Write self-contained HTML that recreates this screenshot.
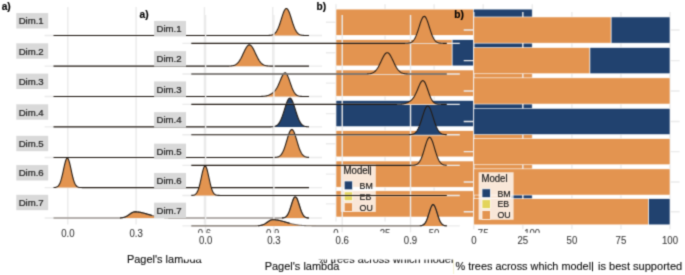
<!DOCTYPE html>
<html><head><meta charset="utf-8"><style>
html,body{margin:0;padding:0;background:#fff;}
body{width:685px;height:275px;overflow:hidden;}
svg{display:block;font-family:'Liberation Sans', Arial, Helvetica, sans-serif;}
</style></head><body>
<svg width="685" height="275" viewBox="0 0 685 275">
<defs><filter id="bl" color-interpolation-filters="sRGB" x="0" y="0" width="685" height="275" filterUnits="userSpaceOnUse"><feConvolveMatrix order="3" kernelMatrix="0.0277 0.1110 0.0277 0.1110 0.4452 0.1110 0.0277 0.1110 0.0277" edgeMode="duplicate"/></filter></defs>
<rect width="685" height="275" fill="#fff"/>
<g filter="url(#bl)">
<rect width="685" height="275" fill="#fff"/>
<g id="copyA">
<line x1="67.8" y1="7.1" x2="67.8" y2="224.5" stroke="#EBEBEB" stroke-width="1.4"/>
<line x1="136.11" y1="7.1" x2="136.11" y2="224.5" stroke="#EBEBEB" stroke-width="1.4"/>
<line x1="204.42" y1="7.1" x2="204.42" y2="224.5" stroke="#EBEBEB" stroke-width="1.4"/>
<line x1="272.73" y1="7.1" x2="272.73" y2="224.5" stroke="#EBEBEB" stroke-width="1.4"/>
<line x1="44.6" y1="35.5" x2="322" y2="35.5" stroke="#EBEBEB" stroke-width="1.4"/>
<line x1="44.6" y1="66.15" x2="322" y2="66.15" stroke="#EBEBEB" stroke-width="1.4"/>
<line x1="44.6" y1="96.5" x2="322" y2="96.5" stroke="#EBEBEB" stroke-width="1.4"/>
<line x1="44.6" y1="126.9" x2="322" y2="126.9" stroke="#EBEBEB" stroke-width="1.4"/>
<line x1="44.6" y1="157.5" x2="322" y2="157.5" stroke="#EBEBEB" stroke-width="1.4"/>
<line x1="44.6" y1="187.6" x2="322" y2="187.6" stroke="#EBEBEB" stroke-width="1.4"/>
<line x1="44.6" y1="218.05" x2="322" y2="218.05" stroke="#EBEBEB" stroke-width="1.4"/>
<line x1="336" y1="4.2" x2="336" y2="221.5" stroke="#EBEBEB" stroke-width="1.4"/>
<line x1="385.05" y1="4.2" x2="385.05" y2="221.5" stroke="#EBEBEB" stroke-width="1.4"/>
<line x1="434.1" y1="4.2" x2="434.1" y2="221.5" stroke="#EBEBEB" stroke-width="1.4"/>
<line x1="483.15" y1="4.2" x2="483.15" y2="221.5" stroke="#EBEBEB" stroke-width="1.4"/>
<line x1="532.2" y1="4.2" x2="532.2" y2="221.5" stroke="#EBEBEB" stroke-width="1.4"/>
<line x1="325.9" y1="22.2" x2="541.8" y2="22.2" stroke="#EBEBEB" stroke-width="1.4"/>
<line x1="325.9" y1="52.8" x2="541.8" y2="52.8" stroke="#EBEBEB" stroke-width="1.4"/>
<line x1="325.9" y1="83.1" x2="541.8" y2="83.1" stroke="#EBEBEB" stroke-width="1.4"/>
<line x1="325.9" y1="113.6" x2="541.8" y2="113.6" stroke="#EBEBEB" stroke-width="1.4"/>
<line x1="325.9" y1="143.8" x2="541.8" y2="143.8" stroke="#EBEBEB" stroke-width="1.4"/>
<line x1="325.9" y1="174.1" x2="541.8" y2="174.1" stroke="#EBEBEB" stroke-width="1.4"/>
<line x1="325.9" y1="203.9" x2="541.8" y2="203.9" stroke="#EBEBEB" stroke-width="1.4"/>
<polygon points="53.5,35.5 53.5,35.5 267,35.48 267.5,35.47 268,35.46 268.5,35.44 269,35.42 269.5,35.39 270,35.35 270.5,35.29 271,35.22 271.5,35.12 272,35 272.5,34.84 273,34.64 273.5,34.4 274,34.09 274.5,33.73 275,33.28 275.5,32.75 276,32.12 276.5,31.4 277,30.56 277.5,29.61 278,28.55 278.5,27.37 279,26.08 279.5,24.69 280,23.21 280.5,21.67 281,20.09 281.5,18.48 282,16.89 282.5,15.35 283,13.88 283.5,12.53 284,11.33 284.5,10.31 285,9.5 285.5,8.92 286,8.58 286.5,8.51 287,8.69 287.5,9.12 288,9.8 288.5,10.69 289,11.79 289.5,13.05 290,14.45 290.5,15.96 291,17.52 291.5,19.12 292,20.72 292.5,22.3 293,23.81 293.5,25.26 294,26.6 294.5,27.85 295,28.99 295.5,30 296,30.91 296.5,31.7 297,32.39 297.5,32.97 298,33.47 298.5,33.88 299,34.22 299.5,34.5 300,34.73 300.5,34.91 301,35.05 301.5,35.16 302,35.25 302.5,35.31 303,35.36 303.5,35.4 304,35.43 304.5,35.45 305,35.47 305.5,35.48 306,35.48 309,35.5 309,35.5" fill="#E39450"/>
<polyline points="53.5,35.5 267,35.48 267.5,35.47 268,35.46 268.5,35.44 269,35.42 269.5,35.39 270,35.35 270.5,35.29 271,35.22 271.5,35.12 272,35 272.5,34.84 273,34.64 273.5,34.4 274,34.09 274.5,33.73 275,33.28 275.5,32.75 276,32.12 276.5,31.4 277,30.56 277.5,29.61 278,28.55 278.5,27.37 279,26.08 279.5,24.69 280,23.21 280.5,21.67 281,20.09 281.5,18.48 282,16.89 282.5,15.35 283,13.88 283.5,12.53 284,11.33 284.5,10.31 285,9.5 285.5,8.92 286,8.58 286.5,8.51 287,8.69 287.5,9.12 288,9.8 288.5,10.69 289,11.79 289.5,13.05 290,14.45 290.5,15.96 291,17.52 291.5,19.12 292,20.72 292.5,22.3 293,23.81 293.5,25.26 294,26.6 294.5,27.85 295,28.99 295.5,30 296,30.91 296.5,31.7 297,32.39 297.5,32.97 298,33.47 298.5,33.88 299,34.22 299.5,34.5 300,34.73 300.5,34.91 301,35.05 301.5,35.16 302,35.25 302.5,35.31 303,35.36 303.5,35.4 304,35.43 304.5,35.45 305,35.47 305.5,35.48 306,35.48 309,35.5" fill="none" stroke="#241c16" stroke-width="1.1"/>
<polygon points="53.5,66.15 53.5,66.15 226.5,66.14 227,66.13 227.5,66.12 228,66.11 228.5,66.1 229,66.08 229.5,66.06 230,66.04 230.5,66 231,65.96 231.5,65.9 232,65.83 232.5,65.75 233,65.64 233.5,65.51 234,65.36 234.5,65.17 235,64.95 235.5,64.69 236,64.39 236.5,64.04 237,63.63 237.5,63.17 238,62.65 238.5,62.06 239,61.41 239.5,60.69 240,59.91 240.5,59.06 241,58.16 241.5,57.2 242,56.19 242.5,55.15 243,54.09 243.5,53.02 244,51.94 244.5,50.89 245,49.87 245.5,48.91 246,48.01 246.5,47.2 247,46.49 247.5,45.89 248,45.42 248.5,45.09 249,44.9 249.5,44.85 250,44.96 250.5,45.2 251,45.59 251.5,46.12 252,46.76 252.5,47.51 253,48.36 253.5,49.29 254,50.27 254.5,51.31 255,52.37 255.5,53.45 256,54.52 256.5,55.57 257,56.6 257.5,57.59 258,58.52 258.5,59.41 259,60.23 259.5,60.99 260,61.68 260.5,62.3 261,62.86 261.5,63.36 262,63.8 262.5,64.19 263,64.52 263.5,64.8 264,65.05 264.5,65.25 265,65.42 265.5,65.57 266,65.69 266.5,65.78 267,65.86 267.5,65.92 268,65.98 268.5,66.02 269,66.05 269.5,66.07 270,66.09 270.5,66.11 271,66.12 271.5,66.13 272,66.13 309,66.15 309,66.15" fill="#E39450"/>
<polyline points="53.5,66.15 226.5,66.14 227,66.13 227.5,66.12 228,66.11 228.5,66.1 229,66.08 229.5,66.06 230,66.04 230.5,66 231,65.96 231.5,65.9 232,65.83 232.5,65.75 233,65.64 233.5,65.51 234,65.36 234.5,65.17 235,64.95 235.5,64.69 236,64.39 236.5,64.04 237,63.63 237.5,63.17 238,62.65 238.5,62.06 239,61.41 239.5,60.69 240,59.91 240.5,59.06 241,58.16 241.5,57.2 242,56.19 242.5,55.15 243,54.09 243.5,53.02 244,51.94 244.5,50.89 245,49.87 245.5,48.91 246,48.01 246.5,47.2 247,46.49 247.5,45.89 248,45.42 248.5,45.09 249,44.9 249.5,44.85 250,44.96 250.5,45.2 251,45.59 251.5,46.12 252,46.76 252.5,47.51 253,48.36 253.5,49.29 254,50.27 254.5,51.31 255,52.37 255.5,53.45 256,54.52 256.5,55.57 257,56.6 257.5,57.59 258,58.52 258.5,59.41 259,60.23 259.5,60.99 260,61.68 260.5,62.3 261,62.86 261.5,63.36 262,63.8 262.5,64.19 263,64.52 263.5,64.8 264,65.05 264.5,65.25 265,65.42 265.5,65.57 266,65.69 266.5,65.78 267,65.86 267.5,65.92 268,65.98 268.5,66.02 269,66.05 269.5,66.07 270,66.09 270.5,66.11 271,66.12 271.5,66.13 272,66.13 309,66.15" fill="none" stroke="#241c16" stroke-width="1.1"/>
<polygon points="53.5,96.5 53.5,96.5 259,96.48 259.5,96.47 260,96.47 260.5,96.46 261,96.44 261.5,96.42 262,96.4 262.5,96.38 263,96.34 263.5,96.3 264,96.25 264.5,96.2 265,96.13 265.5,96.05 266,95.95 266.5,95.84 267,95.72 267.5,95.58 268,95.42 268.5,95.24 269,95.05 269.5,94.83 270,94.59 270.5,94.33 271,94.04 271.5,93.74 272,93.4 272.5,93.03 273,92.63 273.5,92.2 274,91.72 274.5,91.19 275,90.61 275.5,89.98 276,89.27 276.5,88.5 277,87.66 277.5,86.73 278,85.74 278.5,84.67 279,83.55 279.5,82.37 280,81.16 280.5,79.93 281,78.71 281.5,77.54 282,76.42 282.5,75.41 283,74.53 283.5,73.8 284,73.25 284.5,72.91 285,72.79 285.5,72.89 286,73.23 286.5,73.78 287,74.54 287.5,75.5 288,76.62 288.5,77.87 289,79.22 289.5,80.64 290,82.1 290.5,83.57 291,85 291.5,86.39 292,87.7 292.5,88.92 293,90.05 293.5,91.06 294,91.97 294.5,92.76 295,93.45 295.5,94.04 296,94.53 296.5,94.95 297,95.29 297.5,95.56 298,95.78 298.5,95.96 299,96.09 299.5,96.2 300,96.28 300.5,96.34 301,96.39 301.5,96.42 302,96.44 302.5,96.46 303,96.47 303.5,96.48 309,96.5 309,96.5" fill="#E39450"/>
<polyline points="53.5,96.5 259,96.48 259.5,96.47 260,96.47 260.5,96.46 261,96.44 261.5,96.42 262,96.4 262.5,96.38 263,96.34 263.5,96.3 264,96.25 264.5,96.2 265,96.13 265.5,96.05 266,95.95 266.5,95.84 267,95.72 267.5,95.58 268,95.42 268.5,95.24 269,95.05 269.5,94.83 270,94.59 270.5,94.33 271,94.04 271.5,93.74 272,93.4 272.5,93.03 273,92.63 273.5,92.2 274,91.72 274.5,91.19 275,90.61 275.5,89.98 276,89.27 276.5,88.5 277,87.66 277.5,86.73 278,85.74 278.5,84.67 279,83.55 279.5,82.37 280,81.16 280.5,79.93 281,78.71 281.5,77.54 282,76.42 282.5,75.41 283,74.53 283.5,73.8 284,73.25 284.5,72.91 285,72.79 285.5,72.89 286,73.23 286.5,73.78 287,74.54 287.5,75.5 288,76.62 288.5,77.87 289,79.22 289.5,80.64 290,82.1 290.5,83.57 291,85 291.5,86.39 292,87.7 292.5,88.92 293,90.05 293.5,91.06 294,91.97 294.5,92.76 295,93.45 295.5,94.04 296,94.53 296.5,94.95 297,95.29 297.5,95.56 298,95.78 298.5,95.96 299,96.09 299.5,96.2 300,96.28 300.5,96.34 301,96.39 301.5,96.42 302,96.44 302.5,96.46 303,96.47 303.5,96.48 309,96.5" fill="none" stroke="#241c16" stroke-width="1.1"/>
<polygon points="53.5,126.9 53.5,126.9 269,126.88 269.5,126.88 270,126.87 270.5,126.85 271,126.84 271.5,126.81 272,126.78 272.5,126.74 273,126.68 273.5,126.61 274,126.52 274.5,126.41 275,126.26 275.5,126.08 276,125.85 276.5,125.57 277,125.24 277.5,124.84 278,124.36 278.5,123.8 279,123.14 279.5,122.39 280,121.54 280.5,120.57 281,119.49 281.5,118.31 282,117.02 282.5,115.64 283,114.17 283.5,112.63 284,111.04 284.5,109.43 285,107.82 285.5,106.24 286,104.71 286.5,103.28 287,101.97 287.5,100.81 288,99.83 288.5,99.05 289,98.5 289.5,98.18 290,98.1 290.5,98.28 291,98.69 291.5,99.34 292,100.2 292.5,101.25 293,102.48 293.5,103.84 294,105.31 294.5,106.86 295,108.46 295.5,110.08 296,111.68 296.5,113.25 297,114.77 297.5,116.2 298,117.55 298.5,118.8 299,119.94 299.5,120.97 300,121.89 300.5,122.71 301,123.42 301.5,124.03 302,124.56 302.5,125.01 303,125.38 303.5,125.69 304,125.95 304.5,126.16 305,126.32 305.5,126.46 306,126.56 306.5,126.64 307,126.71 307.5,126.76 308,126.8 308.5,126.82 309,126.84 309,126.9" fill="#21426F"/>
<polyline points="53.5,126.9 269,126.88 269.5,126.88 270,126.87 270.5,126.85 271,126.84 271.5,126.81 272,126.78 272.5,126.74 273,126.68 273.5,126.61 274,126.52 274.5,126.41 275,126.26 275.5,126.08 276,125.85 276.5,125.57 277,125.24 277.5,124.84 278,124.36 278.5,123.8 279,123.14 279.5,122.39 280,121.54 280.5,120.57 281,119.49 281.5,118.31 282,117.02 282.5,115.64 283,114.17 283.5,112.63 284,111.04 284.5,109.43 285,107.82 285.5,106.24 286,104.71 286.5,103.28 287,101.97 287.5,100.81 288,99.83 288.5,99.05 289,98.5 289.5,98.18 290,98.1 290.5,98.28 291,98.69 291.5,99.34 292,100.2 292.5,101.25 293,102.48 293.5,103.84 294,105.31 294.5,106.86 295,108.46 295.5,110.08 296,111.68 296.5,113.25 297,114.77 297.5,116.2 298,117.55 298.5,118.8 299,119.94 299.5,120.97 300,121.89 300.5,122.71 301,123.42 301.5,124.03 302,124.56 302.5,125.01 303,125.38 303.5,125.69 304,125.95 304.5,126.16 305,126.32 305.5,126.46 306,126.56 306.5,126.64 307,126.71 307.5,126.76 308,126.8 308.5,126.82 309,126.84" fill="none" stroke="#241c16" stroke-width="1.1"/>
<polygon points="53.5,157.5 53.5,157.5 272.5,157.48 273,157.48 273.5,157.47 274,157.45 274.5,157.43 275,157.4 275.5,157.36 276,157.31 276.5,157.24 277,157.15 277.5,157.03 278,156.88 278.5,156.69 279,156.44 279.5,156.14 280,155.77 280.5,155.32 281,154.78 281.5,154.15 282,153.4 282.5,152.54 283,151.55 283.5,150.44 284,149.21 284.5,147.86 285,146.39 285.5,144.84 286,143.21 286.5,141.53 287,139.84 287.5,138.16 288,136.52 288.5,134.98 289,133.56 289.5,132.31 290,131.26 290.5,130.43 291,129.86 291.5,129.55 292,129.52 292.5,129.77 293,130.29 293.5,131.07 294,132.08 294.5,133.3 295,134.69 295.5,136.21 296,137.82 296.5,139.5 297,141.2 297.5,142.88 298,144.52 298.5,146.09 299,147.57 299.5,148.95 300,150.2 300.5,151.34 301,152.35 301.5,153.24 302,154 302.5,154.66 303,155.22 303.5,155.69 304,156.07 304.5,156.39 305,156.64 305.5,156.84 306,157 306.5,157.13 307,157.22 307.5,157.3 308,157.35 308.5,157.39 309,157.42 309,157.5" fill="#E39450"/>
<polyline points="53.5,157.5 272.5,157.48 273,157.48 273.5,157.47 274,157.45 274.5,157.43 275,157.4 275.5,157.36 276,157.31 276.5,157.24 277,157.15 277.5,157.03 278,156.88 278.5,156.69 279,156.44 279.5,156.14 280,155.77 280.5,155.32 281,154.78 281.5,154.15 282,153.4 282.5,152.54 283,151.55 283.5,150.44 284,149.21 284.5,147.86 285,146.39 285.5,144.84 286,143.21 286.5,141.53 287,139.84 287.5,138.16 288,136.52 288.5,134.98 289,133.56 289.5,132.31 290,131.26 290.5,130.43 291,129.86 291.5,129.55 292,129.52 292.5,129.77 293,130.29 293.5,131.07 294,132.08 294.5,133.3 295,134.69 295.5,136.21 296,137.82 296.5,139.5 297,141.2 297.5,142.88 298,144.52 298.5,146.09 299,147.57 299.5,148.95 300,150.2 300.5,151.34 301,152.35 301.5,153.24 302,154 302.5,154.66 303,155.22 303.5,155.69 304,156.07 304.5,156.39 305,156.64 305.5,156.84 306,157 306.5,157.13 307,157.22 307.5,157.3 308,157.35 308.5,157.39 309,157.42" fill="none" stroke="#241c16" stroke-width="1.1"/>
<polygon points="53.5,187.6 53.5,187.56 54,187.54 54.5,187.5 55,187.44 55.5,187.36 56,187.25 56.5,187.08 57,186.85 57.5,186.54 58,186.12 58.5,185.58 59,184.88 59.5,184.01 60,182.94 60.5,181.65 61,180.14 61.5,178.4 62,176.45 62.5,174.32 63,172.05 63.5,169.71 64,167.37 64.5,165.11 65,163.04 65.5,161.23 66,159.78 66.5,158.75 67,158.19 67.5,158.14 68,158.6 68.5,159.53 69,160.91 69.5,162.65 70,164.68 70.5,166.91 71,169.24 71.5,171.58 72,173.87 72.5,176.03 73,178.02 73.5,179.81 74,181.37 74.5,182.7 75,183.81 75.5,184.72 76,185.45 76.5,186.03 77,186.47 77.5,186.8 78,187.04 78.5,187.22 79,187.34 79.5,187.43 80,187.49 80.5,187.53 81,187.56 81.5,187.57 82,187.58 309,187.6 309,187.6" fill="#E39450"/>
<polyline points="53.5,187.56 54,187.54 54.5,187.5 55,187.44 55.5,187.36 56,187.25 56.5,187.08 57,186.85 57.5,186.54 58,186.12 58.5,185.58 59,184.88 59.5,184.01 60,182.94 60.5,181.65 61,180.14 61.5,178.4 62,176.45 62.5,174.32 63,172.05 63.5,169.71 64,167.37 64.5,165.11 65,163.04 65.5,161.23 66,159.78 66.5,158.75 67,158.19 67.5,158.14 68,158.6 68.5,159.53 69,160.91 69.5,162.65 70,164.68 70.5,166.91 71,169.24 71.5,171.58 72,173.87 72.5,176.03 73,178.02 73.5,179.81 74,181.37 74.5,182.7 75,183.81 75.5,184.72 76,185.45 76.5,186.03 77,186.47 77.5,186.8 78,187.04 78.5,187.22 79,187.34 79.5,187.43 80,187.49 80.5,187.53 81,187.56 81.5,187.57 82,187.58 309,187.6" fill="none" stroke="#241c16" stroke-width="1.1"/>
<polygon points="53.5,218.05 53.5,218.05 116.5,218.04 117,218.03 117.5,218.02 118,218.01 118.5,218 119,217.98 119.5,217.96 120,217.93 120.5,217.9 121,217.85 121.5,217.8 122,217.73 122.5,217.65 123,217.55 123.5,217.44 124,217.3 124.5,217.15 125,216.97 125.5,216.76 126,216.54 126.5,216.28 127,216.01 127.5,215.71 128,215.39 128.5,215.06 129,214.71 129.5,214.36 130,214.01 130.5,213.66 131,213.32 131.5,213 132,212.71 132.5,212.45 133,212.24 133.5,212.06 134,211.94 134.5,211.87 135,211.85 135.5,211.86 136,211.87 136.5,211.9 137,211.93 137.5,211.97 138,212.02 138.5,212.08 139,212.15 139.5,212.23 140,212.31 140.5,212.4 141,212.5 141.5,212.6 142,212.71 142.5,212.82 143,212.94 143.5,213.07 144,213.2 144.5,213.33 145,213.47 145.5,213.6 146,213.74 146.5,213.89 147,214.03 147.5,214.17 148,214.32 148.5,214.46 149,214.61 149.5,214.75 150,214.89 150.5,215.03 151,215.17 151.5,215.31 152,215.44 152.5,215.57 153,215.7 153.5,215.82 154,215.94 154.5,216.06 155,216.17 155.5,216.28 156,216.39 156.5,216.49 157,216.59 157.5,216.68 158,216.77 158.5,216.86 159,216.94 159.5,217.02 160,217.09 160.5,217.16 161,217.22 161.5,217.29 162,217.34 162.5,217.4 163,217.45 163.5,217.5 164,217.54 164.5,217.59 165,217.63 165.5,217.66 166,217.7 166.5,217.73 167,217.76 167.5,217.78 168,217.81 168.5,217.83 169,217.85 169.5,217.87 170,217.89 170.5,217.9 171,217.92 171.5,217.93 172,217.94 172.5,217.96 173,217.97 173.5,217.97 174,217.98 174.5,217.99 175,218 175.5,218 176,218.01 176.5,218.01 177,218.02 177.5,218.02 178,218.02 178.5,218.03 179,218.03 280,218.04 280.5,218.03 281,218.01 281.5,217.99 282,217.97 282.5,217.92 283,217.86 283.5,217.78 284,217.66 284.5,217.49 285,217.28 285.5,216.99 286,216.62 286.5,216.16 287,215.58 287.5,214.87 288,214.02 288.5,213.03 289,211.89 289.5,210.61 290,209.2 290.5,207.68 291,206.1 291.5,204.49 292,202.89 292.5,201.38 293,200 293.5,198.8 294,197.85 294.5,197.17 295,196.81 295.5,196.78 296,197.07 296.5,197.69 297,198.59 297.5,199.74 298,201.09 298.5,202.58 299,204.16 299.5,205.78 300,207.37 300.5,208.9 301,210.33 301.5,211.64 302,212.81 302.5,213.83 303,214.71 303.5,215.44 304,216.05 304.5,216.54 305,216.92 305.5,217.23 306,217.45 306.5,217.63 307,217.75 307.5,217.85 308,217.91 308.5,217.96 309,217.99 309,218.05" fill="#E39450"/>
<polyline points="53.5,218.05 116.5,218.04 117,218.03 117.5,218.02 118,218.01 118.5,218 119,217.98 119.5,217.96 120,217.93 120.5,217.9 121,217.85 121.5,217.8 122,217.73 122.5,217.65 123,217.55 123.5,217.44 124,217.3 124.5,217.15 125,216.97 125.5,216.76 126,216.54 126.5,216.28 127,216.01 127.5,215.71 128,215.39 128.5,215.06 129,214.71 129.5,214.36 130,214.01 130.5,213.66 131,213.32 131.5,213 132,212.71 132.5,212.45 133,212.24 133.5,212.06 134,211.94 134.5,211.87 135,211.85 135.5,211.86 136,211.87 136.5,211.9 137,211.93 137.5,211.97 138,212.02 138.5,212.08 139,212.15 139.5,212.23 140,212.31 140.5,212.4 141,212.5 141.5,212.6 142,212.71 142.5,212.82 143,212.94 143.5,213.07 144,213.2 144.5,213.33 145,213.47 145.5,213.6 146,213.74 146.5,213.89 147,214.03 147.5,214.17 148,214.32 148.5,214.46 149,214.61 149.5,214.75 150,214.89 150.5,215.03 151,215.17 151.5,215.31 152,215.44 152.5,215.57 153,215.7 153.5,215.82 154,215.94 154.5,216.06 155,216.17 155.5,216.28 156,216.39 156.5,216.49 157,216.59 157.5,216.68 158,216.77 158.5,216.86 159,216.94 159.5,217.02 160,217.09 160.5,217.16 161,217.22 161.5,217.29 162,217.34 162.5,217.4 163,217.45 163.5,217.5 164,217.54 164.5,217.59 165,217.63 165.5,217.66 166,217.7 166.5,217.73 167,217.76 167.5,217.78 168,217.81 168.5,217.83 169,217.85 169.5,217.87 170,217.89 170.5,217.9 171,217.92 171.5,217.93 172,217.94 172.5,217.96 173,217.97 173.5,217.97 174,217.98 174.5,217.99 175,218 175.5,218 176,218.01 176.5,218.01 177,218.02 177.5,218.02 178,218.02 178.5,218.03 179,218.03 280,218.04 280.5,218.03 281,218.01 281.5,217.99 282,217.97 282.5,217.92 283,217.86 283.5,217.78 284,217.66 284.5,217.49 285,217.28 285.5,216.99 286,216.62 286.5,216.16 287,215.58 287.5,214.87 288,214.02 288.5,213.03 289,211.89 289.5,210.61 290,209.2 290.5,207.68 291,206.1 291.5,204.49 292,202.89 292.5,201.38 293,200 293.5,198.8 294,197.85 294.5,197.17 295,196.81 295.5,196.78 296,197.07 296.5,197.69 297,198.59 297.5,199.74 298,201.09 298.5,202.58 299,204.16 299.5,205.78 300,207.37 300.5,208.9 301,210.33 301.5,211.64 302,212.81 302.5,213.83 303,214.71 303.5,215.44 304,216.05 304.5,216.54 305,216.92 305.5,217.23 306,217.45 306.5,217.63 307,217.75 307.5,217.85 308,217.91 308.5,217.96 309,217.99" fill="none" stroke="#7a716a" stroke-width="1.1"/>
<polyline points="120,217.93 120.5,217.9 121,217.85 121.5,217.8 122,217.73 122.5,217.65 123,217.55 123.5,217.44 124,217.3 124.5,217.15 125,216.97 125.5,216.76 126,216.54 126.5,216.28 127,216.01 127.5,215.71 128,215.39 128.5,215.06 129,214.71 129.5,214.36 130,214.01 130.5,213.66 131,213.32 131.5,213 132,212.71 132.5,212.45 133,212.24 133.5,212.06 134,211.94 134.5,211.87 135,211.85 135.5,211.86 136,211.87 136.5,211.9 137,211.93 137.5,211.97 138,212.02 138.5,212.08 139,212.15 139.5,212.23 140,212.31 140.5,212.4 141,212.5 141.5,212.6 142,212.71 142.5,212.82 143,212.94 143.5,213.07 144,213.2 144.5,213.33 145,213.47 145.5,213.6 146,213.74 146.5,213.89 147,214.03 147.5,214.17 148,214.32 148.5,214.46 149,214.61 149.5,214.75 150,214.89 150.5,215.03 151,215.17 151.5,215.31 152,215.44" fill="none" stroke="#241c16" stroke-width="1.1"/>
<polyline points="282,217.97 282.5,217.92 283,217.86 283.5,217.78 284,217.66 284.5,217.49 285,217.28 285.5,216.99 286,216.62 286.5,216.16 287,215.58 287.5,214.87 288,214.02 288.5,213.03 289,211.89 289.5,210.61 290,209.2 290.5,207.68 291,206.1 291.5,204.49 292,202.89 292.5,201.38 293,200 293.5,198.8 294,197.85 294.5,197.17 295,196.81 295.5,196.78 296,197.07 296.5,197.69 297,198.59 297.5,199.74 298,201.09 298.5,202.58 299,204.16 299.5,205.78 300,207.37 300.5,208.9 301,210.33 301.5,211.64 302,212.81 302.5,213.83 303,214.71 303.5,215.44 304,216.05 304.5,216.54 305,216.92 305.5,217.23 306,217.45 306.5,217.63 307,217.75 307.5,217.85 308,217.91 308.5,217.96 309,217.99" fill="none" stroke="#241c16" stroke-width="1.1"/>
<rect x="16.3" y="13.1" width="31.9" height="15.4" fill="#D9D9D9"/>
<text transform="translate(18.7,24.35) scale(1,1.05)" font-size="9.3" fill="#222" textLength="25.0" lengthAdjust="spacingAndGlyphs" stroke="#222" stroke-width="0.22">Dim.1</text>
<rect x="16.3" y="43.3" width="31.9" height="15.4" fill="#D9D9D9"/>
<text transform="translate(18.7,54.55) scale(1,1.05)" font-size="9.3" fill="#222" textLength="25.0" lengthAdjust="spacingAndGlyphs" stroke="#222" stroke-width="0.22">Dim.2</text>
<rect x="16.3" y="73.6" width="31.9" height="15.4" fill="#D9D9D9"/>
<text transform="translate(18.7,84.85) scale(1,1.05)" font-size="9.3" fill="#222" textLength="25.0" lengthAdjust="spacingAndGlyphs" stroke="#222" stroke-width="0.22">Dim.3</text>
<rect x="16.3" y="104.3" width="31.9" height="15.4" fill="#D9D9D9"/>
<text transform="translate(18.7,115.55) scale(1,1.05)" font-size="9.3" fill="#222" textLength="25.0" lengthAdjust="spacingAndGlyphs" stroke="#222" stroke-width="0.22">Dim.4</text>
<rect x="16.3" y="135.8" width="31.9" height="15.4" fill="#D9D9D9"/>
<text transform="translate(18.7,147.05) scale(1,1.05)" font-size="9.3" fill="#222" textLength="25.0" lengthAdjust="spacingAndGlyphs" stroke="#222" stroke-width="0.22">Dim.5</text>
<rect x="16.3" y="165.1" width="31.9" height="15.4" fill="#D9D9D9"/>
<text transform="translate(18.7,176.35) scale(1,1.05)" font-size="9.3" fill="#222" textLength="25.0" lengthAdjust="spacingAndGlyphs" stroke="#222" stroke-width="0.22">Dim.6</text>
<rect x="16.3" y="194.8" width="31.9" height="15.4" fill="#D9D9D9"/>
<text transform="translate(18.7,206.05) scale(1,1.05)" font-size="9.3" fill="#222" textLength="25.0" lengthAdjust="spacingAndGlyphs" stroke="#222" stroke-width="0.22">Dim.7</text>
<rect x="336" y="9.1" width="137.34" height="26.2" fill="#E39450" stroke="#fff" stroke-width="0.6"/>
<rect x="473.34" y="9.1" width="58.86" height="26.2" fill="#21426F" stroke="#fff" stroke-width="0.6"/>
<rect x="336" y="39.7" width="116.15" height="26.2" fill="#E39450" stroke="#fff" stroke-width="0.6"/>
<rect x="452.15" y="39.7" width="80.05" height="26.2" fill="#21426F" stroke="#fff" stroke-width="0.6"/>
<rect x="336" y="70" width="196.2" height="26.2" fill="#E39450" stroke="#fff" stroke-width="0.6"/>
<rect x="336" y="100.5" width="196.2" height="26.2" fill="#21426F" stroke="#fff" stroke-width="0.6"/>
<rect x="336" y="130.7" width="196.2" height="26.2" fill="#E39450" stroke="#fff" stroke-width="0.6"/>
<rect x="336" y="161" width="196.2" height="26.2" fill="#E39450" stroke="#fff" stroke-width="0.6"/>
<rect x="336" y="190.8" width="174.81" height="26.2" fill="#E39450" stroke="#fff" stroke-width="0.6"/>
<rect x="510.81" y="190.8" width="21.39" height="26.2" fill="#21426F" stroke="#fff" stroke-width="0.6"/>
<rect x="340.8" y="164.4" width="35" height="47.5" fill="#fff" fill-opacity="0.78"/>
<text transform="translate(343.6,173.9) scale(1,1.1)" font-size="9.6" fill="#111" stroke="#111" stroke-width="0.15">Model</text>
<rect x="344.2" y="181" width="8.4" height="8.8" fill="#21426F" stroke="#fff" stroke-width="0.7"/>
<text transform="translate(359.6,188.7) scale(1,1.1)" font-size="8.8" fill="#111" stroke="#111" stroke-width="0.15">BM</text>
<rect x="344.2" y="191.9" width="8.4" height="8.8" fill="#E3D45A" stroke="#fff" stroke-width="0.7"/>
<text transform="translate(359.6,199.6) scale(1,1.1)" font-size="8.8" fill="#111" stroke="#111" stroke-width="0.15">EB</text>
<rect x="344.2" y="202.8" width="8.4" height="8.8" fill="#E39450" stroke="#fff" stroke-width="0.7"/>
<text transform="translate(359.6,210.5) scale(1,1.1)" font-size="8.8" fill="#111" stroke="#111" stroke-width="0.15">OU</text>
<text transform="translate(67.8,236.6) scale(1,1.1)" font-size="9.6" fill="#3a3a3a" text-anchor="middle" stroke="#3a3a3a" stroke-width="0.1">0.0</text>
<text transform="translate(136.11,236.6) scale(1,1.1)" font-size="9.6" fill="#3a3a3a" text-anchor="middle" stroke="#3a3a3a" stroke-width="0.1">0.3</text>
<text transform="translate(204.42,236.6) scale(1,1.1)" font-size="9.6" fill="#3a3a3a" text-anchor="middle" stroke="#3a3a3a" stroke-width="0.1">0.6</text>
<text transform="translate(272.73,236.6) scale(1,1.1)" font-size="9.6" fill="#3a3a3a" text-anchor="middle" stroke="#3a3a3a" stroke-width="0.1">0.9</text>
<text transform="translate(336,236.6) scale(1,1.1)" font-size="9.6" fill="#3a3a3a" text-anchor="middle" stroke="#3a3a3a" stroke-width="0.1">0</text>
<text transform="translate(385.05,236.6) scale(1,1.1)" font-size="9.6" fill="#3a3a3a" text-anchor="middle" stroke="#3a3a3a" stroke-width="0.1">25</text>
<text transform="translate(434.1,236.6) scale(1,1.1)" font-size="9.6" fill="#3a3a3a" text-anchor="middle" stroke="#3a3a3a" stroke-width="0.1">50</text>
<text transform="translate(483.15,236.6) scale(1,1.1)" font-size="9.6" fill="#3a3a3a" text-anchor="middle" stroke="#3a3a3a" stroke-width="0.1">75</text>
<text transform="translate(532.2,236.6) scale(1,1.1)" font-size="9.6" fill="#3a3a3a" text-anchor="middle" stroke="#3a3a3a" stroke-width="0.1">100</text>
<text transform="translate(126.9,262.5) scale(1,1.03)" font-size="11" fill="#111" textLength="74.7" lengthAdjust="spacingAndGlyphs" stroke="#111" stroke-width="0.12">Pagel's lambda</text>
<text transform="translate(317.7,262.5) scale(1,1.03)" font-size="11" fill="#111" textLength="135.6" lengthAdjust="spacingAndGlyphs" stroke="#111" stroke-width="0.12">% trees across which model</text>
<text transform="translate(460.2,262.5) scale(1,1.03)" font-size="11" fill="#111" textLength="84.2" lengthAdjust="spacingAndGlyphs" stroke="#111" stroke-width="0.12">is best supported</text>
<text x="1.7" y="9.9" font-size="10.2" fill="#000" font-weight="bold" stroke="#000" stroke-width="0.15">a)</text>
<text x="316.5" y="10.3" font-size="10.2" fill="#000" font-weight="bold" stroke="#000" stroke-width="0.15">b)</text>
<line x1="370.4" y1="166.3" x2="370.4" y2="175.2" stroke="#111" stroke-width="1"/>
</g>
<rect x="182.5" y="232.8" width="503" height="26.7" fill="#fff"/>
<rect x="453.4" y="259" width="232" height="16" fill="#fff"/>
<line x1="453.6" y1="259.6" x2="453.6" y2="274" stroke="#F4EFC8" stroke-width="0.9"/>
<g id="copyB" transform="translate(137.8,7.85)">
<line x1="67.8" y1="7.1" x2="67.8" y2="224.5" stroke="#EBEBEB" stroke-width="1.4"/>
<line x1="136.11" y1="7.1" x2="136.11" y2="224.5" stroke="#EBEBEB" stroke-width="1.4"/>
<line x1="204.42" y1="7.1" x2="204.42" y2="224.5" stroke="#EBEBEB" stroke-width="1.4"/>
<line x1="272.73" y1="7.1" x2="272.73" y2="224.5" stroke="#EBEBEB" stroke-width="1.4"/>
<line x1="44.6" y1="35.5" x2="322" y2="35.5" stroke="#EBEBEB" stroke-width="1.4"/>
<line x1="44.6" y1="66.15" x2="322" y2="66.15" stroke="#EBEBEB" stroke-width="1.4"/>
<line x1="44.6" y1="96.5" x2="322" y2="96.5" stroke="#EBEBEB" stroke-width="1.4"/>
<line x1="44.6" y1="126.9" x2="322" y2="126.9" stroke="#EBEBEB" stroke-width="1.4"/>
<line x1="44.6" y1="157.5" x2="322" y2="157.5" stroke="#EBEBEB" stroke-width="1.4"/>
<line x1="44.6" y1="187.6" x2="322" y2="187.6" stroke="#EBEBEB" stroke-width="1.4"/>
<line x1="44.6" y1="218.05" x2="322" y2="218.05" stroke="#EBEBEB" stroke-width="1.4"/>
<line x1="336" y1="4.2" x2="336" y2="221.5" stroke="#EBEBEB" stroke-width="1.4"/>
<line x1="385.05" y1="4.2" x2="385.05" y2="221.5" stroke="#EBEBEB" stroke-width="1.4"/>
<line x1="434.1" y1="4.2" x2="434.1" y2="221.5" stroke="#EBEBEB" stroke-width="1.4"/>
<line x1="483.15" y1="4.2" x2="483.15" y2="221.5" stroke="#EBEBEB" stroke-width="1.4"/>
<line x1="532.2" y1="4.2" x2="532.2" y2="221.5" stroke="#EBEBEB" stroke-width="1.4"/>
<line x1="325.9" y1="22.2" x2="541.8" y2="22.2" stroke="#EBEBEB" stroke-width="1.4"/>
<line x1="325.9" y1="52.8" x2="541.8" y2="52.8" stroke="#EBEBEB" stroke-width="1.4"/>
<line x1="325.9" y1="83.1" x2="541.8" y2="83.1" stroke="#EBEBEB" stroke-width="1.4"/>
<line x1="325.9" y1="113.6" x2="541.8" y2="113.6" stroke="#EBEBEB" stroke-width="1.4"/>
<line x1="325.9" y1="143.8" x2="541.8" y2="143.8" stroke="#EBEBEB" stroke-width="1.4"/>
<line x1="325.9" y1="174.1" x2="541.8" y2="174.1" stroke="#EBEBEB" stroke-width="1.4"/>
<line x1="325.9" y1="203.9" x2="541.8" y2="203.9" stroke="#EBEBEB" stroke-width="1.4"/>
<polygon points="53.5,35.5 53.5,35.5 267,35.48 267.5,35.47 268,35.46 268.5,35.44 269,35.42 269.5,35.39 270,35.35 270.5,35.29 271,35.22 271.5,35.12 272,35 272.5,34.84 273,34.64 273.5,34.4 274,34.09 274.5,33.73 275,33.28 275.5,32.75 276,32.12 276.5,31.4 277,30.56 277.5,29.61 278,28.55 278.5,27.37 279,26.08 279.5,24.69 280,23.21 280.5,21.67 281,20.09 281.5,18.48 282,16.89 282.5,15.35 283,13.88 283.5,12.53 284,11.33 284.5,10.31 285,9.5 285.5,8.92 286,8.58 286.5,8.51 287,8.69 287.5,9.12 288,9.8 288.5,10.69 289,11.79 289.5,13.05 290,14.45 290.5,15.96 291,17.52 291.5,19.12 292,20.72 292.5,22.3 293,23.81 293.5,25.26 294,26.6 294.5,27.85 295,28.99 295.5,30 296,30.91 296.5,31.7 297,32.39 297.5,32.97 298,33.47 298.5,33.88 299,34.22 299.5,34.5 300,34.73 300.5,34.91 301,35.05 301.5,35.16 302,35.25 302.5,35.31 303,35.36 303.5,35.4 304,35.43 304.5,35.45 305,35.47 305.5,35.48 306,35.48 309,35.5 309,35.5" fill="#E39450"/>
<polyline points="53.5,35.5 267,35.48 267.5,35.47 268,35.46 268.5,35.44 269,35.42 269.5,35.39 270,35.35 270.5,35.29 271,35.22 271.5,35.12 272,35 272.5,34.84 273,34.64 273.5,34.4 274,34.09 274.5,33.73 275,33.28 275.5,32.75 276,32.12 276.5,31.4 277,30.56 277.5,29.61 278,28.55 278.5,27.37 279,26.08 279.5,24.69 280,23.21 280.5,21.67 281,20.09 281.5,18.48 282,16.89 282.5,15.35 283,13.88 283.5,12.53 284,11.33 284.5,10.31 285,9.5 285.5,8.92 286,8.58 286.5,8.51 287,8.69 287.5,9.12 288,9.8 288.5,10.69 289,11.79 289.5,13.05 290,14.45 290.5,15.96 291,17.52 291.5,19.12 292,20.72 292.5,22.3 293,23.81 293.5,25.26 294,26.6 294.5,27.85 295,28.99 295.5,30 296,30.91 296.5,31.7 297,32.39 297.5,32.97 298,33.47 298.5,33.88 299,34.22 299.5,34.5 300,34.73 300.5,34.91 301,35.05 301.5,35.16 302,35.25 302.5,35.31 303,35.36 303.5,35.4 304,35.43 304.5,35.45 305,35.47 305.5,35.48 306,35.48 309,35.5" fill="none" stroke="#241c16" stroke-width="1.1"/>
<polygon points="53.5,66.15 53.5,66.15 226.5,66.14 227,66.13 227.5,66.12 228,66.11 228.5,66.1 229,66.08 229.5,66.06 230,66.04 230.5,66 231,65.96 231.5,65.9 232,65.83 232.5,65.75 233,65.64 233.5,65.51 234,65.36 234.5,65.17 235,64.95 235.5,64.69 236,64.39 236.5,64.04 237,63.63 237.5,63.17 238,62.65 238.5,62.06 239,61.41 239.5,60.69 240,59.91 240.5,59.06 241,58.16 241.5,57.2 242,56.19 242.5,55.15 243,54.09 243.5,53.02 244,51.94 244.5,50.89 245,49.87 245.5,48.91 246,48.01 246.5,47.2 247,46.49 247.5,45.89 248,45.42 248.5,45.09 249,44.9 249.5,44.85 250,44.96 250.5,45.2 251,45.59 251.5,46.12 252,46.76 252.5,47.51 253,48.36 253.5,49.29 254,50.27 254.5,51.31 255,52.37 255.5,53.45 256,54.52 256.5,55.57 257,56.6 257.5,57.59 258,58.52 258.5,59.41 259,60.23 259.5,60.99 260,61.68 260.5,62.3 261,62.86 261.5,63.36 262,63.8 262.5,64.19 263,64.52 263.5,64.8 264,65.05 264.5,65.25 265,65.42 265.5,65.57 266,65.69 266.5,65.78 267,65.86 267.5,65.92 268,65.98 268.5,66.02 269,66.05 269.5,66.07 270,66.09 270.5,66.11 271,66.12 271.5,66.13 272,66.13 309,66.15 309,66.15" fill="#E39450"/>
<polyline points="53.5,66.15 226.5,66.14 227,66.13 227.5,66.12 228,66.11 228.5,66.1 229,66.08 229.5,66.06 230,66.04 230.5,66 231,65.96 231.5,65.9 232,65.83 232.5,65.75 233,65.64 233.5,65.51 234,65.36 234.5,65.17 235,64.95 235.5,64.69 236,64.39 236.5,64.04 237,63.63 237.5,63.17 238,62.65 238.5,62.06 239,61.41 239.5,60.69 240,59.91 240.5,59.06 241,58.16 241.5,57.2 242,56.19 242.5,55.15 243,54.09 243.5,53.02 244,51.94 244.5,50.89 245,49.87 245.5,48.91 246,48.01 246.5,47.2 247,46.49 247.5,45.89 248,45.42 248.5,45.09 249,44.9 249.5,44.85 250,44.96 250.5,45.2 251,45.59 251.5,46.12 252,46.76 252.5,47.51 253,48.36 253.5,49.29 254,50.27 254.5,51.31 255,52.37 255.5,53.45 256,54.52 256.5,55.57 257,56.6 257.5,57.59 258,58.52 258.5,59.41 259,60.23 259.5,60.99 260,61.68 260.5,62.3 261,62.86 261.5,63.36 262,63.8 262.5,64.19 263,64.52 263.5,64.8 264,65.05 264.5,65.25 265,65.42 265.5,65.57 266,65.69 266.5,65.78 267,65.86 267.5,65.92 268,65.98 268.5,66.02 269,66.05 269.5,66.07 270,66.09 270.5,66.11 271,66.12 271.5,66.13 272,66.13 309,66.15" fill="none" stroke="#241c16" stroke-width="1.1"/>
<polygon points="53.5,96.5 53.5,96.5 259,96.48 259.5,96.47 260,96.47 260.5,96.46 261,96.44 261.5,96.42 262,96.4 262.5,96.38 263,96.34 263.5,96.3 264,96.25 264.5,96.2 265,96.13 265.5,96.05 266,95.95 266.5,95.84 267,95.72 267.5,95.58 268,95.42 268.5,95.24 269,95.05 269.5,94.83 270,94.59 270.5,94.33 271,94.04 271.5,93.74 272,93.4 272.5,93.03 273,92.63 273.5,92.2 274,91.72 274.5,91.19 275,90.61 275.5,89.98 276,89.27 276.5,88.5 277,87.66 277.5,86.73 278,85.74 278.5,84.67 279,83.55 279.5,82.37 280,81.16 280.5,79.93 281,78.71 281.5,77.54 282,76.42 282.5,75.41 283,74.53 283.5,73.8 284,73.25 284.5,72.91 285,72.79 285.5,72.89 286,73.23 286.5,73.78 287,74.54 287.5,75.5 288,76.62 288.5,77.87 289,79.22 289.5,80.64 290,82.1 290.5,83.57 291,85 291.5,86.39 292,87.7 292.5,88.92 293,90.05 293.5,91.06 294,91.97 294.5,92.76 295,93.45 295.5,94.04 296,94.53 296.5,94.95 297,95.29 297.5,95.56 298,95.78 298.5,95.96 299,96.09 299.5,96.2 300,96.28 300.5,96.34 301,96.39 301.5,96.42 302,96.44 302.5,96.46 303,96.47 303.5,96.48 309,96.5 309,96.5" fill="#E39450"/>
<polyline points="53.5,96.5 259,96.48 259.5,96.47 260,96.47 260.5,96.46 261,96.44 261.5,96.42 262,96.4 262.5,96.38 263,96.34 263.5,96.3 264,96.25 264.5,96.2 265,96.13 265.5,96.05 266,95.95 266.5,95.84 267,95.72 267.5,95.58 268,95.42 268.5,95.24 269,95.05 269.5,94.83 270,94.59 270.5,94.33 271,94.04 271.5,93.74 272,93.4 272.5,93.03 273,92.63 273.5,92.2 274,91.72 274.5,91.19 275,90.61 275.5,89.98 276,89.27 276.5,88.5 277,87.66 277.5,86.73 278,85.74 278.5,84.67 279,83.55 279.5,82.37 280,81.16 280.5,79.93 281,78.71 281.5,77.54 282,76.42 282.5,75.41 283,74.53 283.5,73.8 284,73.25 284.5,72.91 285,72.79 285.5,72.89 286,73.23 286.5,73.78 287,74.54 287.5,75.5 288,76.62 288.5,77.87 289,79.22 289.5,80.64 290,82.1 290.5,83.57 291,85 291.5,86.39 292,87.7 292.5,88.92 293,90.05 293.5,91.06 294,91.97 294.5,92.76 295,93.45 295.5,94.04 296,94.53 296.5,94.95 297,95.29 297.5,95.56 298,95.78 298.5,95.96 299,96.09 299.5,96.2 300,96.28 300.5,96.34 301,96.39 301.5,96.42 302,96.44 302.5,96.46 303,96.47 303.5,96.48 309,96.5" fill="none" stroke="#241c16" stroke-width="1.1"/>
<polygon points="53.5,126.9 53.5,126.9 269,126.88 269.5,126.88 270,126.87 270.5,126.85 271,126.84 271.5,126.81 272,126.78 272.5,126.74 273,126.68 273.5,126.61 274,126.52 274.5,126.41 275,126.26 275.5,126.08 276,125.85 276.5,125.57 277,125.24 277.5,124.84 278,124.36 278.5,123.8 279,123.14 279.5,122.39 280,121.54 280.5,120.57 281,119.49 281.5,118.31 282,117.02 282.5,115.64 283,114.17 283.5,112.63 284,111.04 284.5,109.43 285,107.82 285.5,106.24 286,104.71 286.5,103.28 287,101.97 287.5,100.81 288,99.83 288.5,99.05 289,98.5 289.5,98.18 290,98.1 290.5,98.28 291,98.69 291.5,99.34 292,100.2 292.5,101.25 293,102.48 293.5,103.84 294,105.31 294.5,106.86 295,108.46 295.5,110.08 296,111.68 296.5,113.25 297,114.77 297.5,116.2 298,117.55 298.5,118.8 299,119.94 299.5,120.97 300,121.89 300.5,122.71 301,123.42 301.5,124.03 302,124.56 302.5,125.01 303,125.38 303.5,125.69 304,125.95 304.5,126.16 305,126.32 305.5,126.46 306,126.56 306.5,126.64 307,126.71 307.5,126.76 308,126.8 308.5,126.82 309,126.84 309,126.9" fill="#21426F"/>
<polyline points="53.5,126.9 269,126.88 269.5,126.88 270,126.87 270.5,126.85 271,126.84 271.5,126.81 272,126.78 272.5,126.74 273,126.68 273.5,126.61 274,126.52 274.5,126.41 275,126.26 275.5,126.08 276,125.85 276.5,125.57 277,125.24 277.5,124.84 278,124.36 278.5,123.8 279,123.14 279.5,122.39 280,121.54 280.5,120.57 281,119.49 281.5,118.31 282,117.02 282.5,115.64 283,114.17 283.5,112.63 284,111.04 284.5,109.43 285,107.82 285.5,106.24 286,104.71 286.5,103.28 287,101.97 287.5,100.81 288,99.83 288.5,99.05 289,98.5 289.5,98.18 290,98.1 290.5,98.28 291,98.69 291.5,99.34 292,100.2 292.5,101.25 293,102.48 293.5,103.84 294,105.31 294.5,106.86 295,108.46 295.5,110.08 296,111.68 296.5,113.25 297,114.77 297.5,116.2 298,117.55 298.5,118.8 299,119.94 299.5,120.97 300,121.89 300.5,122.71 301,123.42 301.5,124.03 302,124.56 302.5,125.01 303,125.38 303.5,125.69 304,125.95 304.5,126.16 305,126.32 305.5,126.46 306,126.56 306.5,126.64 307,126.71 307.5,126.76 308,126.8 308.5,126.82 309,126.84" fill="none" stroke="#241c16" stroke-width="1.1"/>
<polygon points="53.5,157.5 53.5,157.5 272.5,157.48 273,157.48 273.5,157.47 274,157.45 274.5,157.43 275,157.4 275.5,157.36 276,157.31 276.5,157.24 277,157.15 277.5,157.03 278,156.88 278.5,156.69 279,156.44 279.5,156.14 280,155.77 280.5,155.32 281,154.78 281.5,154.15 282,153.4 282.5,152.54 283,151.55 283.5,150.44 284,149.21 284.5,147.86 285,146.39 285.5,144.84 286,143.21 286.5,141.53 287,139.84 287.5,138.16 288,136.52 288.5,134.98 289,133.56 289.5,132.31 290,131.26 290.5,130.43 291,129.86 291.5,129.55 292,129.52 292.5,129.77 293,130.29 293.5,131.07 294,132.08 294.5,133.3 295,134.69 295.5,136.21 296,137.82 296.5,139.5 297,141.2 297.5,142.88 298,144.52 298.5,146.09 299,147.57 299.5,148.95 300,150.2 300.5,151.34 301,152.35 301.5,153.24 302,154 302.5,154.66 303,155.22 303.5,155.69 304,156.07 304.5,156.39 305,156.64 305.5,156.84 306,157 306.5,157.13 307,157.22 307.5,157.3 308,157.35 308.5,157.39 309,157.42 309,157.5" fill="#E39450"/>
<polyline points="53.5,157.5 272.5,157.48 273,157.48 273.5,157.47 274,157.45 274.5,157.43 275,157.4 275.5,157.36 276,157.31 276.5,157.24 277,157.15 277.5,157.03 278,156.88 278.5,156.69 279,156.44 279.5,156.14 280,155.77 280.5,155.32 281,154.78 281.5,154.15 282,153.4 282.5,152.54 283,151.55 283.5,150.44 284,149.21 284.5,147.86 285,146.39 285.5,144.84 286,143.21 286.5,141.53 287,139.84 287.5,138.16 288,136.52 288.5,134.98 289,133.56 289.5,132.31 290,131.26 290.5,130.43 291,129.86 291.5,129.55 292,129.52 292.5,129.77 293,130.29 293.5,131.07 294,132.08 294.5,133.3 295,134.69 295.5,136.21 296,137.82 296.5,139.5 297,141.2 297.5,142.88 298,144.52 298.5,146.09 299,147.57 299.5,148.95 300,150.2 300.5,151.34 301,152.35 301.5,153.24 302,154 302.5,154.66 303,155.22 303.5,155.69 304,156.07 304.5,156.39 305,156.64 305.5,156.84 306,157 306.5,157.13 307,157.22 307.5,157.3 308,157.35 308.5,157.39 309,157.42" fill="none" stroke="#241c16" stroke-width="1.1"/>
<polygon points="53.5,187.6 53.5,187.56 54,187.54 54.5,187.5 55,187.44 55.5,187.36 56,187.25 56.5,187.08 57,186.85 57.5,186.54 58,186.12 58.5,185.58 59,184.88 59.5,184.01 60,182.94 60.5,181.65 61,180.14 61.5,178.4 62,176.45 62.5,174.32 63,172.05 63.5,169.71 64,167.37 64.5,165.11 65,163.04 65.5,161.23 66,159.78 66.5,158.75 67,158.19 67.5,158.14 68,158.6 68.5,159.53 69,160.91 69.5,162.65 70,164.68 70.5,166.91 71,169.24 71.5,171.58 72,173.87 72.5,176.03 73,178.02 73.5,179.81 74,181.37 74.5,182.7 75,183.81 75.5,184.72 76,185.45 76.5,186.03 77,186.47 77.5,186.8 78,187.04 78.5,187.22 79,187.34 79.5,187.43 80,187.49 80.5,187.53 81,187.56 81.5,187.57 82,187.58 309,187.6 309,187.6" fill="#E39450"/>
<polyline points="53.5,187.56 54,187.54 54.5,187.5 55,187.44 55.5,187.36 56,187.25 56.5,187.08 57,186.85 57.5,186.54 58,186.12 58.5,185.58 59,184.88 59.5,184.01 60,182.94 60.5,181.65 61,180.14 61.5,178.4 62,176.45 62.5,174.32 63,172.05 63.5,169.71 64,167.37 64.5,165.11 65,163.04 65.5,161.23 66,159.78 66.5,158.75 67,158.19 67.5,158.14 68,158.6 68.5,159.53 69,160.91 69.5,162.65 70,164.68 70.5,166.91 71,169.24 71.5,171.58 72,173.87 72.5,176.03 73,178.02 73.5,179.81 74,181.37 74.5,182.7 75,183.81 75.5,184.72 76,185.45 76.5,186.03 77,186.47 77.5,186.8 78,187.04 78.5,187.22 79,187.34 79.5,187.43 80,187.49 80.5,187.53 81,187.56 81.5,187.57 82,187.58 309,187.6" fill="none" stroke="#241c16" stroke-width="1.1"/>
<polygon points="53.5,218.05 53.5,218.05 116.5,218.04 117,218.03 117.5,218.02 118,218.01 118.5,218 119,217.98 119.5,217.96 120,217.93 120.5,217.9 121,217.85 121.5,217.8 122,217.73 122.5,217.65 123,217.55 123.5,217.44 124,217.3 124.5,217.15 125,216.97 125.5,216.76 126,216.54 126.5,216.28 127,216.01 127.5,215.71 128,215.39 128.5,215.06 129,214.71 129.5,214.36 130,214.01 130.5,213.66 131,213.32 131.5,213 132,212.71 132.5,212.45 133,212.24 133.5,212.06 134,211.94 134.5,211.87 135,211.85 135.5,211.86 136,211.87 136.5,211.9 137,211.93 137.5,211.97 138,212.02 138.5,212.08 139,212.15 139.5,212.23 140,212.31 140.5,212.4 141,212.5 141.5,212.6 142,212.71 142.5,212.82 143,212.94 143.5,213.07 144,213.2 144.5,213.33 145,213.47 145.5,213.6 146,213.74 146.5,213.89 147,214.03 147.5,214.17 148,214.32 148.5,214.46 149,214.61 149.5,214.75 150,214.89 150.5,215.03 151,215.17 151.5,215.31 152,215.44 152.5,215.57 153,215.7 153.5,215.82 154,215.94 154.5,216.06 155,216.17 155.5,216.28 156,216.39 156.5,216.49 157,216.59 157.5,216.68 158,216.77 158.5,216.86 159,216.94 159.5,217.02 160,217.09 160.5,217.16 161,217.22 161.5,217.29 162,217.34 162.5,217.4 163,217.45 163.5,217.5 164,217.54 164.5,217.59 165,217.63 165.5,217.66 166,217.7 166.5,217.73 167,217.76 167.5,217.78 168,217.81 168.5,217.83 169,217.85 169.5,217.87 170,217.89 170.5,217.9 171,217.92 171.5,217.93 172,217.94 172.5,217.96 173,217.97 173.5,217.97 174,217.98 174.5,217.99 175,218 175.5,218 176,218.01 176.5,218.01 177,218.02 177.5,218.02 178,218.02 178.5,218.03 179,218.03 280,218.04 280.5,218.03 281,218.01 281.5,217.99 282,217.97 282.5,217.92 283,217.86 283.5,217.78 284,217.66 284.5,217.49 285,217.28 285.5,216.99 286,216.62 286.5,216.16 287,215.58 287.5,214.87 288,214.02 288.5,213.03 289,211.89 289.5,210.61 290,209.2 290.5,207.68 291,206.1 291.5,204.49 292,202.89 292.5,201.38 293,200 293.5,198.8 294,197.85 294.5,197.17 295,196.81 295.5,196.78 296,197.07 296.5,197.69 297,198.59 297.5,199.74 298,201.09 298.5,202.58 299,204.16 299.5,205.78 300,207.37 300.5,208.9 301,210.33 301.5,211.64 302,212.81 302.5,213.83 303,214.71 303.5,215.44 304,216.05 304.5,216.54 305,216.92 305.5,217.23 306,217.45 306.5,217.63 307,217.75 307.5,217.85 308,217.91 308.5,217.96 309,217.99 309,218.05" fill="#E39450"/>
<polyline points="53.5,218.05 116.5,218.04 117,218.03 117.5,218.02 118,218.01 118.5,218 119,217.98 119.5,217.96 120,217.93 120.5,217.9 121,217.85 121.5,217.8 122,217.73 122.5,217.65 123,217.55 123.5,217.44 124,217.3 124.5,217.15 125,216.97 125.5,216.76 126,216.54 126.5,216.28 127,216.01 127.5,215.71 128,215.39 128.5,215.06 129,214.71 129.5,214.36 130,214.01 130.5,213.66 131,213.32 131.5,213 132,212.71 132.5,212.45 133,212.24 133.5,212.06 134,211.94 134.5,211.87 135,211.85 135.5,211.86 136,211.87 136.5,211.9 137,211.93 137.5,211.97 138,212.02 138.5,212.08 139,212.15 139.5,212.23 140,212.31 140.5,212.4 141,212.5 141.5,212.6 142,212.71 142.5,212.82 143,212.94 143.5,213.07 144,213.2 144.5,213.33 145,213.47 145.5,213.6 146,213.74 146.5,213.89 147,214.03 147.5,214.17 148,214.32 148.5,214.46 149,214.61 149.5,214.75 150,214.89 150.5,215.03 151,215.17 151.5,215.31 152,215.44 152.5,215.57 153,215.7 153.5,215.82 154,215.94 154.5,216.06 155,216.17 155.5,216.28 156,216.39 156.5,216.49 157,216.59 157.5,216.68 158,216.77 158.5,216.86 159,216.94 159.5,217.02 160,217.09 160.5,217.16 161,217.22 161.5,217.29 162,217.34 162.5,217.4 163,217.45 163.5,217.5 164,217.54 164.5,217.59 165,217.63 165.5,217.66 166,217.7 166.5,217.73 167,217.76 167.5,217.78 168,217.81 168.5,217.83 169,217.85 169.5,217.87 170,217.89 170.5,217.9 171,217.92 171.5,217.93 172,217.94 172.5,217.96 173,217.97 173.5,217.97 174,217.98 174.5,217.99 175,218 175.5,218 176,218.01 176.5,218.01 177,218.02 177.5,218.02 178,218.02 178.5,218.03 179,218.03 280,218.04 280.5,218.03 281,218.01 281.5,217.99 282,217.97 282.5,217.92 283,217.86 283.5,217.78 284,217.66 284.5,217.49 285,217.28 285.5,216.99 286,216.62 286.5,216.16 287,215.58 287.5,214.87 288,214.02 288.5,213.03 289,211.89 289.5,210.61 290,209.2 290.5,207.68 291,206.1 291.5,204.49 292,202.89 292.5,201.38 293,200 293.5,198.8 294,197.85 294.5,197.17 295,196.81 295.5,196.78 296,197.07 296.5,197.69 297,198.59 297.5,199.74 298,201.09 298.5,202.58 299,204.16 299.5,205.78 300,207.37 300.5,208.9 301,210.33 301.5,211.64 302,212.81 302.5,213.83 303,214.71 303.5,215.44 304,216.05 304.5,216.54 305,216.92 305.5,217.23 306,217.45 306.5,217.63 307,217.75 307.5,217.85 308,217.91 308.5,217.96 309,217.99" fill="none" stroke="#7a716a" stroke-width="1.1"/>
<polyline points="120,217.93 120.5,217.9 121,217.85 121.5,217.8 122,217.73 122.5,217.65 123,217.55 123.5,217.44 124,217.3 124.5,217.15 125,216.97 125.5,216.76 126,216.54 126.5,216.28 127,216.01 127.5,215.71 128,215.39 128.5,215.06 129,214.71 129.5,214.36 130,214.01 130.5,213.66 131,213.32 131.5,213 132,212.71 132.5,212.45 133,212.24 133.5,212.06 134,211.94 134.5,211.87 135,211.85 135.5,211.86 136,211.87 136.5,211.9 137,211.93 137.5,211.97 138,212.02 138.5,212.08 139,212.15 139.5,212.23 140,212.31 140.5,212.4 141,212.5 141.5,212.6 142,212.71 142.5,212.82 143,212.94 143.5,213.07 144,213.2 144.5,213.33 145,213.47 145.5,213.6 146,213.74 146.5,213.89 147,214.03 147.5,214.17 148,214.32 148.5,214.46 149,214.61 149.5,214.75 150,214.89 150.5,215.03 151,215.17 151.5,215.31 152,215.44" fill="none" stroke="#241c16" stroke-width="1.1"/>
<polyline points="282,217.97 282.5,217.92 283,217.86 283.5,217.78 284,217.66 284.5,217.49 285,217.28 285.5,216.99 286,216.62 286.5,216.16 287,215.58 287.5,214.87 288,214.02 288.5,213.03 289,211.89 289.5,210.61 290,209.2 290.5,207.68 291,206.1 291.5,204.49 292,202.89 292.5,201.38 293,200 293.5,198.8 294,197.85 294.5,197.17 295,196.81 295.5,196.78 296,197.07 296.5,197.69 297,198.59 297.5,199.74 298,201.09 298.5,202.58 299,204.16 299.5,205.78 300,207.37 300.5,208.9 301,210.33 301.5,211.64 302,212.81 302.5,213.83 303,214.71 303.5,215.44 304,216.05 304.5,216.54 305,216.92 305.5,217.23 306,217.45 306.5,217.63 307,217.75 307.5,217.85 308,217.91 308.5,217.96 309,217.99" fill="none" stroke="#241c16" stroke-width="1.1"/>
<rect x="16.3" y="13.1" width="31.9" height="15.4" fill="#D9D9D9"/>
<text transform="translate(18.7,24.35) scale(1,1.05)" font-size="9.3" fill="#222" textLength="25.0" lengthAdjust="spacingAndGlyphs" stroke="#222" stroke-width="0.22">Dim.1</text>
<rect x="16.3" y="43.3" width="31.9" height="15.4" fill="#D9D9D9"/>
<text transform="translate(18.7,54.55) scale(1,1.05)" font-size="9.3" fill="#222" textLength="25.0" lengthAdjust="spacingAndGlyphs" stroke="#222" stroke-width="0.22">Dim.2</text>
<rect x="16.3" y="73.6" width="31.9" height="15.4" fill="#D9D9D9"/>
<text transform="translate(18.7,84.85) scale(1,1.05)" font-size="9.3" fill="#222" textLength="25.0" lengthAdjust="spacingAndGlyphs" stroke="#222" stroke-width="0.22">Dim.3</text>
<rect x="16.3" y="104.3" width="31.9" height="15.4" fill="#D9D9D9"/>
<text transform="translate(18.7,115.55) scale(1,1.05)" font-size="9.3" fill="#222" textLength="25.0" lengthAdjust="spacingAndGlyphs" stroke="#222" stroke-width="0.22">Dim.4</text>
<rect x="16.3" y="135.8" width="31.9" height="15.4" fill="#D9D9D9"/>
<text transform="translate(18.7,147.05) scale(1,1.05)" font-size="9.3" fill="#222" textLength="25.0" lengthAdjust="spacingAndGlyphs" stroke="#222" stroke-width="0.22">Dim.5</text>
<rect x="16.3" y="165.1" width="31.9" height="15.4" fill="#D9D9D9"/>
<text transform="translate(18.7,176.35) scale(1,1.05)" font-size="9.3" fill="#222" textLength="25.0" lengthAdjust="spacingAndGlyphs" stroke="#222" stroke-width="0.22">Dim.6</text>
<rect x="16.3" y="194.8" width="31.9" height="15.4" fill="#D9D9D9"/>
<text transform="translate(18.7,206.05) scale(1,1.05)" font-size="9.3" fill="#222" textLength="25.0" lengthAdjust="spacingAndGlyphs" stroke="#222" stroke-width="0.22">Dim.7</text>
<rect x="336" y="9.1" width="137.34" height="26.2" fill="#E39450" stroke="#fff" stroke-width="0.6"/>
<rect x="473.34" y="9.1" width="58.86" height="26.2" fill="#21426F" stroke="#fff" stroke-width="0.6"/>
<rect x="336" y="39.7" width="116.15" height="26.2" fill="#E39450" stroke="#fff" stroke-width="0.6"/>
<rect x="452.15" y="39.7" width="80.05" height="26.2" fill="#21426F" stroke="#fff" stroke-width="0.6"/>
<rect x="336" y="70" width="196.2" height="26.2" fill="#E39450" stroke="#fff" stroke-width="0.6"/>
<rect x="336" y="100.5" width="196.2" height="26.2" fill="#21426F" stroke="#fff" stroke-width="0.6"/>
<rect x="336" y="130.7" width="196.2" height="26.2" fill="#E39450" stroke="#fff" stroke-width="0.6"/>
<rect x="336" y="161" width="196.2" height="26.2" fill="#E39450" stroke="#fff" stroke-width="0.6"/>
<rect x="336" y="190.8" width="174.81" height="26.2" fill="#E39450" stroke="#fff" stroke-width="0.6"/>
<rect x="510.81" y="190.8" width="21.39" height="26.2" fill="#21426F" stroke="#fff" stroke-width="0.6"/>
<rect x="340.8" y="164.4" width="35" height="47.5" fill="#fff" fill-opacity="0.78"/>
<text transform="translate(343.6,173.9) scale(1,1.1)" font-size="9.6" fill="#111" stroke="#111" stroke-width="0.15">Model</text>
<rect x="344.2" y="181" width="8.4" height="8.8" fill="#21426F" stroke="#fff" stroke-width="0.7"/>
<text transform="translate(359.6,188.7) scale(1,1.1)" font-size="8.8" fill="#111" stroke="#111" stroke-width="0.15">BM</text>
<rect x="344.2" y="191.9" width="8.4" height="8.8" fill="#E3D45A" stroke="#fff" stroke-width="0.7"/>
<text transform="translate(359.6,199.6) scale(1,1.1)" font-size="8.8" fill="#111" stroke="#111" stroke-width="0.15">EB</text>
<rect x="344.2" y="202.8" width="8.4" height="8.8" fill="#E39450" stroke="#fff" stroke-width="0.7"/>
<text transform="translate(359.6,210.5) scale(1,1.1)" font-size="8.8" fill="#111" stroke="#111" stroke-width="0.15">OU</text>
<text transform="translate(67.8,236.6) scale(1,1.1)" font-size="9.6" fill="#3a3a3a" text-anchor="middle" stroke="#3a3a3a" stroke-width="0.1">0.0</text>
<text transform="translate(136.11,236.6) scale(1,1.1)" font-size="9.6" fill="#3a3a3a" text-anchor="middle" stroke="#3a3a3a" stroke-width="0.1">0.3</text>
<text transform="translate(204.42,236.6) scale(1,1.1)" font-size="9.6" fill="#3a3a3a" text-anchor="middle" stroke="#3a3a3a" stroke-width="0.1">0.6</text>
<text transform="translate(272.73,236.6) scale(1,1.1)" font-size="9.6" fill="#3a3a3a" text-anchor="middle" stroke="#3a3a3a" stroke-width="0.1">0.9</text>
<text transform="translate(336,236.6) scale(1,1.1)" font-size="9.6" fill="#3a3a3a" text-anchor="middle" stroke="#3a3a3a" stroke-width="0.1">0</text>
<text transform="translate(385.05,236.6) scale(1,1.1)" font-size="9.6" fill="#3a3a3a" text-anchor="middle" stroke="#3a3a3a" stroke-width="0.1">25</text>
<text transform="translate(434.1,236.6) scale(1,1.1)" font-size="9.6" fill="#3a3a3a" text-anchor="middle" stroke="#3a3a3a" stroke-width="0.1">50</text>
<text transform="translate(483.15,236.6) scale(1,1.1)" font-size="9.6" fill="#3a3a3a" text-anchor="middle" stroke="#3a3a3a" stroke-width="0.1">75</text>
<text transform="translate(532.2,236.6) scale(1,1.1)" font-size="9.6" fill="#3a3a3a" text-anchor="middle" stroke="#3a3a3a" stroke-width="0.1">100</text>
<text transform="translate(126.9,262.5) scale(1,1.03)" font-size="11" fill="#111" textLength="74.7" lengthAdjust="spacingAndGlyphs" stroke="#111" stroke-width="0.12">Pagel's lambda</text>
<text transform="translate(317.7,262.5) scale(1,1.03)" font-size="11" fill="#111" textLength="135.6" lengthAdjust="spacingAndGlyphs" stroke="#111" stroke-width="0.12">% trees across which model</text>
<text transform="translate(460.2,262.5) scale(1,1.03)" font-size="11" fill="#111" textLength="84.2" lengthAdjust="spacingAndGlyphs" stroke="#111" stroke-width="0.12">is best supported</text>
<text x="1.7" y="9.9" font-size="10.2" fill="#000" font-weight="bold" stroke="#000" stroke-width="0.15">a)</text>
<text x="316.5" y="10.3" font-size="10.2" fill="#000" font-weight="bold" stroke="#000" stroke-width="0.15">b)</text>
</g>
<line x1="592.5" y1="261.8" x2="592.5" y2="271.2" stroke="#111" stroke-width="1.0"/>
</g>
</svg>
</body></html>
